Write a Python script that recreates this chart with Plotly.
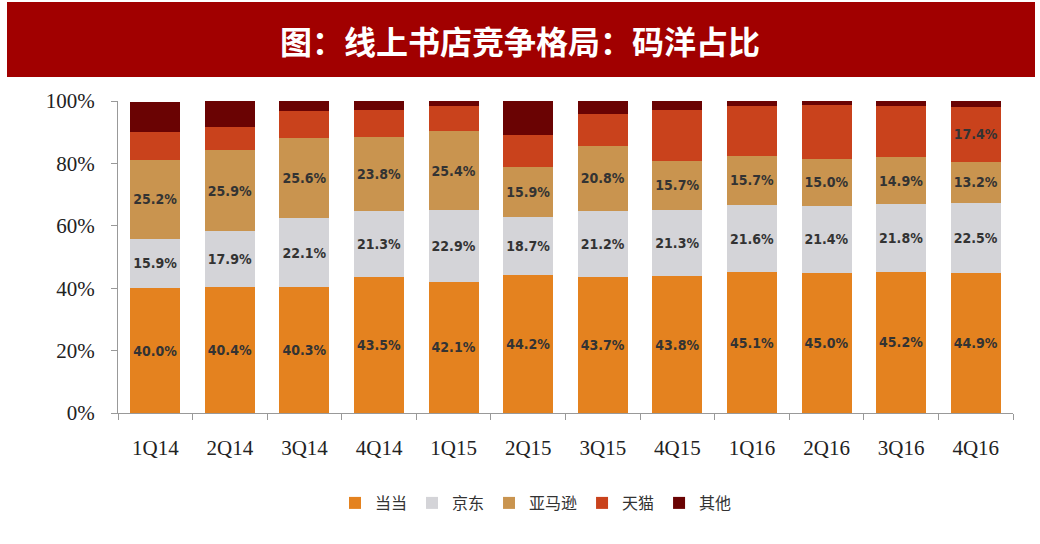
import plotly.graph_objects as go

quarters = ["1Q14", "2Q14", "3Q14", "4Q14", "1Q15", "2Q15", "3Q15", "4Q15", "1Q16", "2Q16", "3Q16", "4Q16"]
dangdang = [40.0, 40.4, 40.3, 43.5, 42.1, 44.2, 43.7, 43.8, 45.1, 45.0, 45.2, 44.9]
jd = [15.9, 17.9, 22.1, 21.3, 22.9, 18.7, 21.2, 21.3, 21.6, 21.4, 21.8, 22.5]
amazon = [25.2, 25.9, 25.6, 23.8, 25.4, 15.9, 20.8, 15.7, 15.7, 15.0, 14.9, 13.2]
tmall = [8.9, 7.4, 8.8, 8.4, 8.0, 10.2, 10.0, 16.4, 15.9, 17.2, 16.5, 17.4]
others = [9.8, 8.4, 3.2, 3.0, 1.6, 11.0, 4.3, 2.8, 1.7, 1.4, 1.6, 2.0]
tmall_labelled = ["4Q16"]

series_names = ["当当", "京东", "亚马逊", "天猫", "其他"]
colors = ["#E4821F", "#D4D4D8", "#C9944F", "#C9421C", "#6A0303"]

fig = go.Figure()

def labels(vals, show):
    return [f"{v:.1f}%" if s else "" for v, s in zip(vals, show)]

all_show = [True] * len(quarters)
none_show = [False] * len(quarters)
tmall_show = [q in tmall_labelled for q in quarters]

for name, vals, col, show in zip(series_names,
                                  [dangdang, jd, amazon, tmall, others],
                                  colors,
                                  [all_show, all_show, all_show, tmall_show, none_show]):
    fig.add_trace(go.Bar(
        x=quarters, y=vals, name=name,
        marker=dict(color=col, line=dict(width=0)),
        text=labels(vals, show),
        textposition="inside",
        insidetextanchor="middle",
        textangle=0,
        textfont=dict(family="DejaVu Sans Condensed, Liberation Sans, sans-serif",
                      size=14, color="#333333", weight="bold"),
        hoverinfo="skip",
    ))

L, R, T, B = 118, 27, 101, 131
W, H = 1040, 544
pw = W - L - R
ph = H - T - B

def px_to_paper_x(px):
    return (px - L) / pw

def px_to_paper_y(py):
    return (H - B - py) / ph

fig.update_layout(
    barmode="stack",
    bargap=0.33,
    width=W, height=H,
    margin=dict(l=L, r=R, t=T, b=B, pad=0),
    paper_bgcolor="white",
    plot_bgcolor="white",
    showlegend=True,
    legend=dict(
        orientation="h",
        traceorder="normal",
        x=px_to_paper_x(536), xanchor="center",
        y=px_to_paper_y(503), yanchor="middle",
        font=dict(family="Noto Sans CJK SC", size=16, color="#333"),
        itemwidth=30,
        tracegroupgap=0,
    ),
    uniformtext=dict(mode="show", minsize=14),
    xaxis=dict(
        type="category",
        showline=True, linecolor="#999", linewidth=1,
        ticks="outside", tickson="boundaries", ticklen=6, tickcolor="#999",
        ticklabelstandoff=16,
        tickfont=dict(family="Liberation Serif", size=21, color="#222"),
        showgrid=False,
    ),
    yaxis=dict(
        range=[0, 100],
        tickvals=[0, 20, 40, 60, 80, 100],
        ticktext=["0%", "20%", "40%", "60%", "80%", "100%"],
        showline=True, linecolor="#999", linewidth=1,
        ticks="outside", ticklen=6, tickcolor="#999",
        ticklabelstandoff=12,
        tickfont=dict(family="Liberation Serif", size=21, color="#222"),
        showgrid=False, zeroline=False,
    ),
    shapes=[dict(
        type="rect", xref="paper", yref="paper",
        x0=px_to_paper_x(7), x1=px_to_paper_x(1035),
        y0=px_to_paper_y(77), y1=px_to_paper_y(2),
        fillcolor="#A10000", line=dict(width=0), layer="above",
    )],
    annotations=[dict(
        text="<b>图：线上书店竞争格局：码洋占比</b>",
        xref="paper", yref="paper",
        x=px_to_paper_x(520), y=px_to_paper_y(40),
        xanchor="center", yanchor="middle", showarrow=False,
        font=dict(family="Noto Sans CJK SC", size=32, color="white"),
    )],
)

fig.write_html("out.html")
